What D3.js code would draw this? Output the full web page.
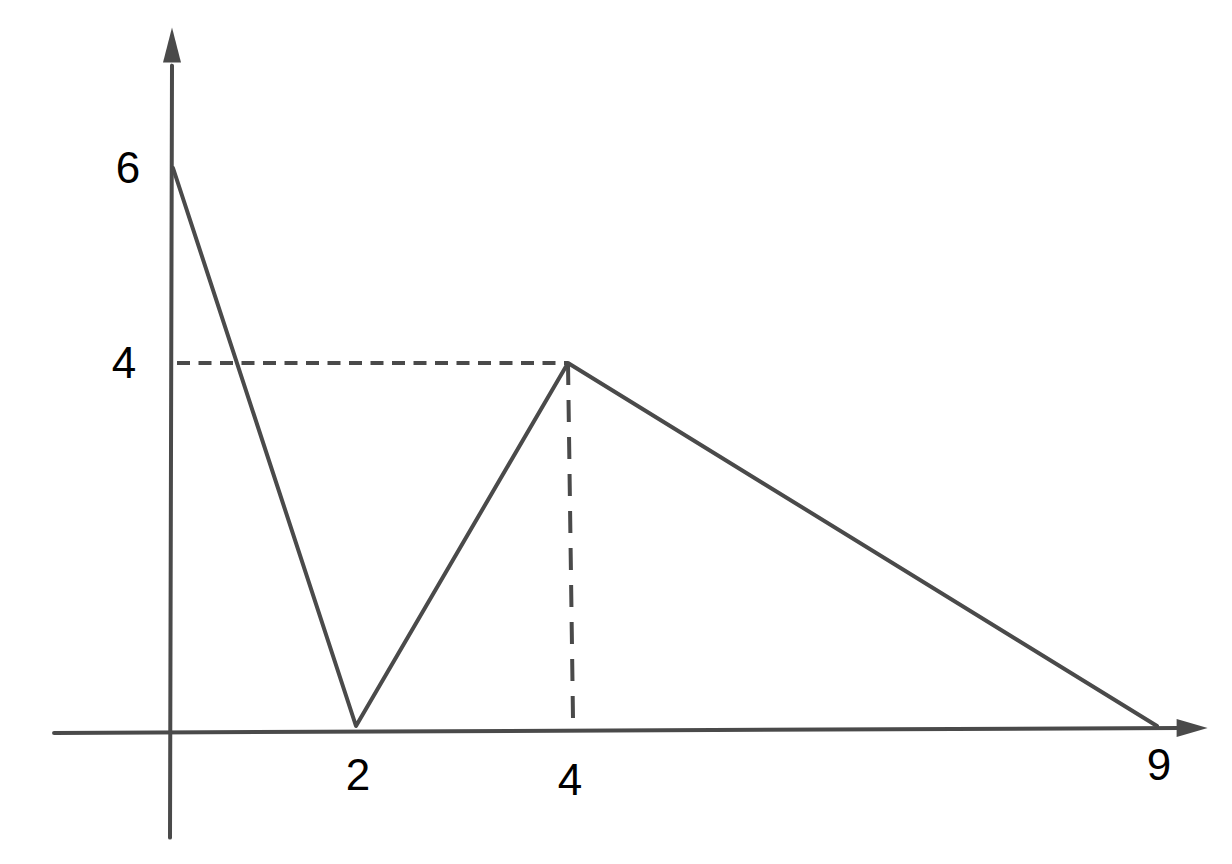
<!DOCTYPE html>
<html>
<head>
<meta charset="utf-8">
<script src="https://cdn.jsdelivr.net/npm/d3@7"></script>
<style>
  body { margin: 0; background: #fff; }
  text { font-family: "Liberation Sans", Arial, sans-serif; }
</style>
</head>
<body>
<svg id="chart"></svg>
<script>
// data
var xValues = [0, 2, 4, 9]
var yValues = [6, 0, 4, 0]
var xTicks = [2, 4, 9]
var yTicks = [6, 4]
var peak = {x: 4, y: 4}

var width = 1232
var height = 864
var lineColor = "#4a4a4a"

var svg = d3.select("#chart")
  .attr("width", width)
  .attr("height", height)

// sketch is not to scale, so piecewise scales
var xScale = d3.scaleLinear()
  .domain([0, 2, 4, 9])
  .range([173, 356, 568, 1157])

var yScale = d3.scaleLinear()
  .domain([0, 4, 6])
  .range([726, 363, 168])

// x axis (slightly tilted like the drawing)
svg.append("line")
  .attr("x1", xScale(-1.3)).attr("y1", yScale(0) + 7)
  .attr("x2", xScale(9.2)).attr("y2", yScale(0) + 2)
  .attr("stroke", lineColor)
  .attr("stroke-width", 4)
  .attr("stroke-linecap", "round")

var ax = xScale(9.43), ay = yScale(0) + 2
svg.append("path")
  .attr("d", `M${ax},${ay} L${ax - 31},${ay - 9} L${ax - 31},${ay + 9} Z`)
  .attr("fill", lineColor)

// y axis
svg.append("line")
  .attr("x1", xScale(0) - 3).attr("y1", yScale(-1.23))
  .attr("x2", xScale(0) - 1).attr("y2", yScale(7.05))
  .attr("stroke", lineColor)
  .attr("stroke-width", 4)
  .attr("stroke-linecap", "round")

var tx = xScale(0) - 1, ty = yScale(7.44)
svg.append("path")
  .attr("d", `M${tx},${ty} L${tx - 9},${ty + 35} L${tx + 9},${ty + 35} Z`)
  .attr("fill", lineColor)

// dashed guides to the peak
svg.append("line")
  .attr("x1", xScale(0) + 4).attr("y1", yScale(peak.y))
  .attr("x2", xScale(peak.x)).attr("y2", yScale(peak.y))
  .attr("stroke", lineColor)
  .attr("stroke-width", 4)
  .attr("stroke-dasharray", "13,8.5")

svg.append("line")
  .attr("x1", xScale(peak.x)).attr("y1", yScale(peak.y))
  .attr("x2", xScale(peak.x) + 5).attr("y2", yScale(0) - 8)
  .attr("stroke", lineColor)
  .attr("stroke-width", 4)
  .attr("stroke-dasharray", "22,15")

// the polyline
var points = xValues.map((d, i) => [xScale(d), yScale(yValues[i])])
svg.append("path")
  .attr("d", d3.line()(points))
  .attr("fill", "none")
  .attr("stroke", lineColor)
  .attr("stroke-width", 4)
  .attr("stroke-linejoin", "round")
  .attr("stroke-linecap", "round")

// tick labels
svg.selectAll(".xlab")
  .data(xTicks)
  .enter().append("text")
  .attr("class", "xlab")
  .attr("x", d => xScale(d) + 2)
  .attr("y", (d, i) => [790, 795, 780][i])
  .attr("text-anchor", "middle")
  .attr("font-size", 44)
  .text(d => d)

svg.selectAll(".ylab")
  .data(yTicks)
  .enter().append("text")
  .attr("class", "ylab")
  .attr("x", (d, i) => [128, 124][i])
  .attr("y", d => yScale(d) + 15)
  .attr("text-anchor", "middle")
  .attr("font-size", 44)
  .text(d => d)
</script>
</body>
</html>
